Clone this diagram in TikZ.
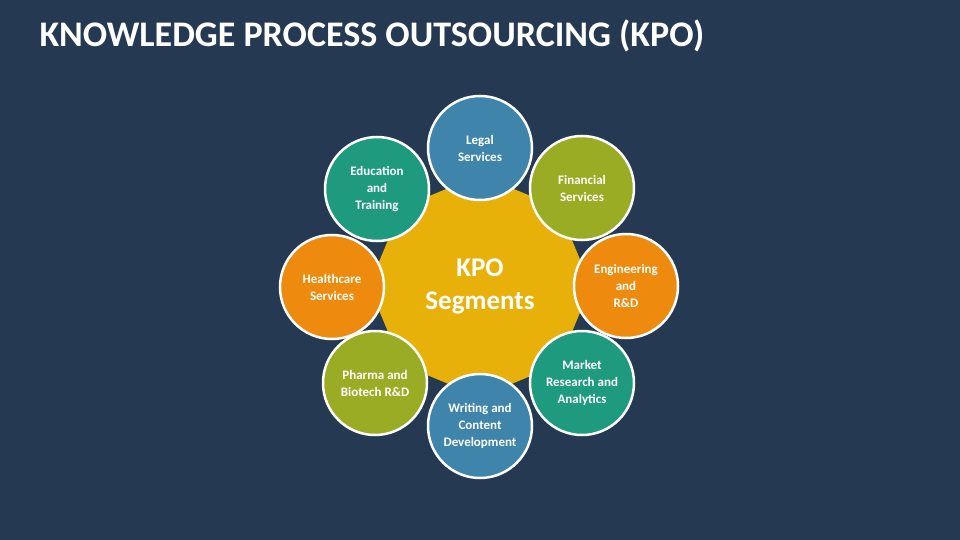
\documentclass[tikz,border=0pt]{standalone}
\usepackage{fontspec}
\setmainfont{Carlito}
\usetikzlibrary{shapes.geometric}
\definecolor{bgnavy}{HTML}{253A52}
\definecolor{segblue}{HTML}{3F84AB}
\definecolor{segolive}{HTML}{9AAB24}
\definecolor{segorange}{HTML}{EE8B0E}
\definecolor{segteal}{HTML}{1E9A7F}
\definecolor{hubyellow}{HTML}{E7B10A}
\begin{document}
\begin{tikzpicture}[x=1pt,y=-1pt]
    \tikzstyle{segment}=[circle, draw=white, line width=2.5pt, minimum size=104pt, inner sep=0pt,
        text=white, font=\bfseries\fontsize{13}{17}\selectfont, align=center]

    \fill[bgnavy] (0,0) rectangle (960,540);
    \node[anchor=west, text=white, font=\bfseries\fontsize{36}{40}\selectfont] (title) at (36,36) {KNOWLEDGE PROCESS OUTSOURCING (KPO)};

    \node[regular polygon, regular polygon sides=8, shape border rotate=22.5, minimum size=222pt,
        fill=hubyellow, text=white, font=\bfseries\fontsize{27}{33}\selectfont, align=center] (hub) at (480,286) {KPO\\Segments};

    % ring of segments
    \foreach \nm/\x/\y/\col/\txt in {
        legal/480/148/segblue/{Legal\\Services},
        financial/582/188/segolive/{Financial\\Services},
        engineering/626/286/segorange/{Engineering\\and\\R\&D},
        market/582/383/segteal/{Market\\Research and\\Analytics},
        writing/480/426/segblue/{Writing and\\Content\\Development},
        pharma/375/383/segolive/{Pharma and\\Biotech R\&D},
        health/332/287/segorange/{Healthcare\\Services},
        education/377/189/segteal/{Education\\and\\Training}} {
        \node[segment, fill=\col] (\nm) at (\x,\y) {\txt};
    }

\end{tikzpicture}
\end{document}
